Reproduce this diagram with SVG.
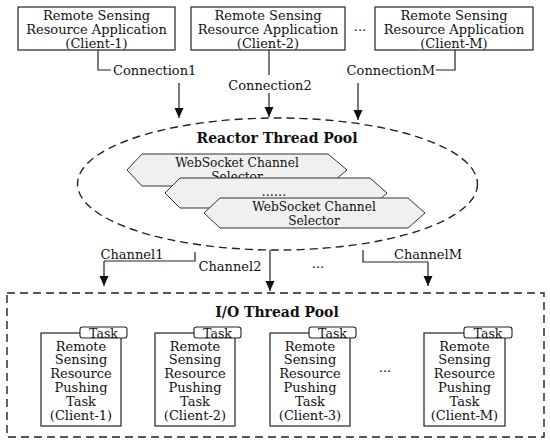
<svg xmlns="http://www.w3.org/2000/svg" width="550" height="443" viewBox="0 0 550 443">
<style>
text{font-family:"DejaVu Serif","Liberation Serif",serif;font-size:13px;fill:#111;text-anchor:middle}
.b{font-weight:bold;font-size:14px}
.l{text-anchor:start}
.r{text-anchor:end}
.h{font-size:12.2px}
.box{fill:#fff;stroke:#222;stroke-width:1.2}
.hex{fill:#f0f0f0;stroke:#333;stroke-width:1}
.ln{fill:none;stroke:#222;stroke-width:1.2}
.ar{fill:none;stroke:#222;stroke-width:1.2;marker-end:url(#ah)}
.dash{fill:none;stroke:#222;stroke-width:1.4;stroke-dasharray:8 5}
.tab{fill:#fff;stroke:#222;stroke-width:1.1}
.t{font-size:12.5px}
</style>
<defs>
<marker id="ah" markerUnits="userSpaceOnUse" markerWidth="10" markerHeight="10" refX="10" refY="4.5" orient="auto">
<path d="M0,0 L10,4.5 L0,9 z" fill="#111"/>
</marker>
</defs>
<rect width="550" height="443" fill="#fff"/>

<g id="client1">
<rect class="box" x="18" y="7" width="157" height="43"/>
<text x="96.5" y="20">Remote Sensing</text>
<text x="96.5" y="34">Resource Application</text>
<text x="96.5" y="47.5">(Client-1)</text>
</g>
<g id="client2">
<rect class="box" x="191" y="7" width="154" height="43"/>
<text x="268" y="20">Remote Sensing</text>
<text x="268" y="34">Resource Application</text>
<text x="268" y="47.5">(Client-2)</text>
</g>
<text x="360" y="31">...</text>
<g id="clientM">
<rect class="box" x="375" y="7" width="158" height="43"/>
<text x="454" y="20">Remote Sensing</text>
<text x="454" y="34">Resource Application</text>
<text x="454" y="47.5">(Client-M)</text>
</g>

<g id="reactor">
<ellipse class="dash" cx="277.5" cy="184" rx="200" ry="66"/>
<text class="b" x="277" y="143">Reactor Thread Pool</text>
</g>
<g id="selector1">
<polygon class="hex" points="127,170 142,154 328,154 347,170 328,186 142,186"/>
<text class="h" x="237" y="166.5">WebSocket Channel</text>
<text class="h" x="237" y="180.5">Selector</text>
</g>
<g id="selector2">
<polygon class="hex" points="165,193 180,178 370,178 387,193 370,208 180,208"/>
<text x="274" y="196">......</text>
</g>
<g id="selector3">
<polygon class="hex" points="204,213 220,198 408,198 425,213 408,228 220,228"/>
<text class="h" x="314" y="211">WebSocket Channel</text>
<text class="h" x="314" y="225">Selector</text>
</g>

<g id="connectors">
<polyline class="ln" points="98,50 98,70 111,70"/>
<text class="l" x="113" y="75">Connection1</text>
<line class="ar" x1="179" y1="83" x2="179" y2="118"/>
<line class="ln" x1="269" y1="50" x2="269" y2="75"/>
<text x="270" y="89.5">Connection2</text>
<line class="ar" x1="269" y1="93" x2="269" y2="117"/>
<polyline class="ln" points="455,50 455,70 436,70"/>
<text class="r" x="435" y="75">ConnectionM</text>
<line class="ar" x1="358" y1="83" x2="358" y2="120"/>

<polyline class="ln" points="195,252 195,261 104,261"/>
<line class="ar" x1="104" y1="261" x2="104" y2="286"/>
<text x="132" y="258.5">Channel1</text>
<line class="ar" x1="270" y1="250" x2="270" y2="291"/>
<text x="230" y="270.5">Channel2</text>
<text x="318" y="268">...</text>
<polyline class="ln" points="363,250 363,262 428,262"/>
<line class="ar" x1="428" y1="262" x2="428" y2="286"/>
<text x="428" y="258.5">ChannelM</text>
</g>

<g id="io">
<rect class="dash" x="7" y="293" width="537" height="144"/>
<text class="b" x="277" y="317">I/O Thread Pool</text>
</g>

<g id="task1">
<rect class="box" x="41" y="333" width="80" height="93"/>
<rect class="tab" x="80" y="327" width="47" height="11" rx="2.5"/>
<text class="t" x="103.5" y="337.5">Task</text>
<text x="81" y="350.5">Remote</text>
<text x="81" y="364.3">Sensing</text>
<text x="81" y="378.1">Resource</text>
<text x="81" y="391.9">Pushing</text>
<text x="81" y="405.7">Task</text>
<text x="81" y="419.5">(Client-1)</text>
</g>
<g id="task2">
<rect class="box" x="155" y="333" width="80" height="93"/>
<rect class="tab" x="194" y="327" width="47" height="11" rx="2.5"/>
<text class="t" x="217.5" y="337.5">Task</text>
<text x="195" y="350.5">Remote</text>
<text x="195" y="364.3">Sensing</text>
<text x="195" y="378.1">Resource</text>
<text x="195" y="391.9">Pushing</text>
<text x="195" y="405.7">Task</text>
<text x="195" y="419.5">(Client-2)</text>
</g>
<g id="task3">
<rect class="box" x="270" y="333" width="80" height="93"/>
<rect class="tab" x="309" y="327" width="47" height="11" rx="2.5"/>
<text class="t" x="332.5" y="337.5">Task</text>
<text x="310" y="350.5">Remote</text>
<text x="310" y="364.3">Sensing</text>
<text x="310" y="378.1">Resource</text>
<text x="310" y="391.9">Pushing</text>
<text x="310" y="405.7">Task</text>
<text x="310" y="419.5">(Client-3)</text>
</g>
<text x="385" y="372">...</text>
<g id="taskM">
<rect class="box" x="424" y="333" width="81" height="93"/>
<rect class="tab" x="464" y="327" width="48" height="11" rx="2.5"/>
<text class="t" x="488" y="337.5">Task</text>
<text x="464.5" y="350.5">Remote</text>
<text x="464.5" y="364.3">Sensing</text>
<text x="464.5" y="378.1">Resource</text>
<text x="464.5" y="391.9">Pushing</text>
<text x="464.5" y="405.7">Task</text>
<text x="464.5" y="419.5">(Client-M)</text>
</g>
</svg>
